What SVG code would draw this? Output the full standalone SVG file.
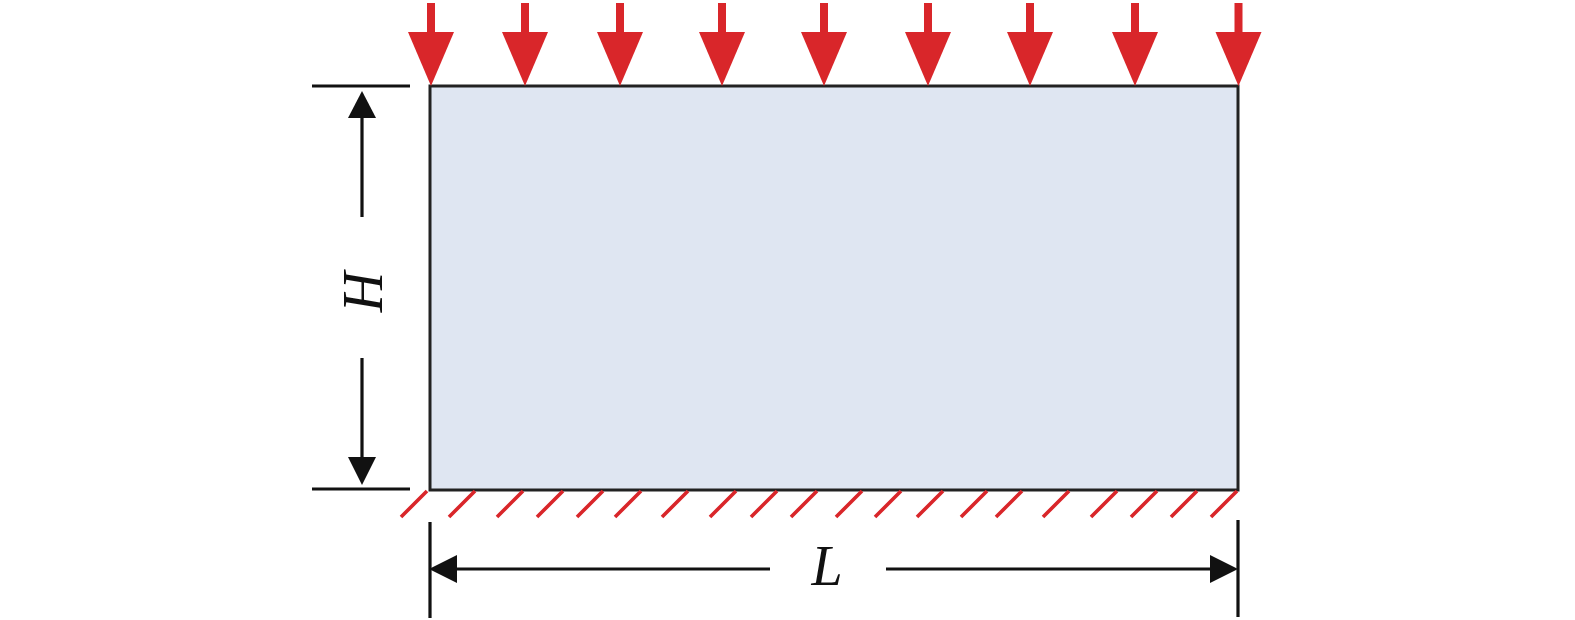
<svg xmlns="http://www.w3.org/2000/svg" width="1575" height="620" viewBox="0 0 1575 620">
<style>
.dim{stroke:#111;stroke-width:3.2;fill:none}
.hatch{stroke:#d9262a;stroke-width:3.6;stroke-linecap:butt}
.head{fill:#111}
.load{fill:#d9262a}
.lbl{font-family:"Liberation Serif",serif;font-style:italic;font-size:56px;fill:#111}
</style>
<defs>
<g id="loadArrow"><rect x="-4" y="3" width="8" height="30" class="load"/><polygon points="-23,32 23,32 0,86" class="load"/></g>
</defs>
<rect width="1575" height="620" fill="#fff"/>
<g id="body">
<rect x="430" y="86" width="808" height="404" fill="#dfe6f2" stroke="#222" stroke-width="3"/>
</g>
<g id="loads">
<use href="#loadArrow" x="431"/>
<use href="#loadArrow" x="525"/>
<use href="#loadArrow" x="620"/>
<use href="#loadArrow" x="722"/>
<use href="#loadArrow" x="824"/>
<use href="#loadArrow" x="928"/>
<use href="#loadArrow" x="1030"/>
<use href="#loadArrow" x="1135"/>
<use href="#loadArrow" x="1238.5"/>
</g>
<g id="support">
<path class="hatch" d="M427,491 l-26,26 M475,491 l-26,26 M523,491 l-26,26 M563,491 l-26,26 M603,491 l-26,26 M641,491 l-26,26 M688,491 l-26,26 M736,491 l-26,26 M777,491 l-26,26 M817,491 l-26,26 M862,491 l-26,26 M901,491 l-26,26 M943,491 l-26,26 M987,491 l-26,26 M1022,491 l-26,26 M1069,491 l-26,26 M1117,491 l-26,26 M1157,491 l-26,26 M1197,491 l-26,26 M1237,491 l-26,26"/>
</g>
<g id="connectors">
<path class="dim" d="M312,86 H410 M312,489 H410 M362,118 V217 M362,358 V457"/>
<polygon class="head" points="362,91 348,118 376,118"/>
<polygon class="head" points="362,485 348,457 376,457"/>
<path class="dim" d="M430,522 V618 M1238,520 V617 M456,569 H770 M886,569 H1211"/>
<polygon class="head" points="429,569 457,555 457,583"/>
<polygon class="head" points="1238,569 1210,555 1210,583"/>
</g>
<g id="labels">
<text class="lbl" x="0" y="0" text-anchor="middle" transform="translate(382,292) rotate(-90)">H</text>
<text class="lbl" x="827" y="585" text-anchor="middle">L</text>
</g>
</svg>
